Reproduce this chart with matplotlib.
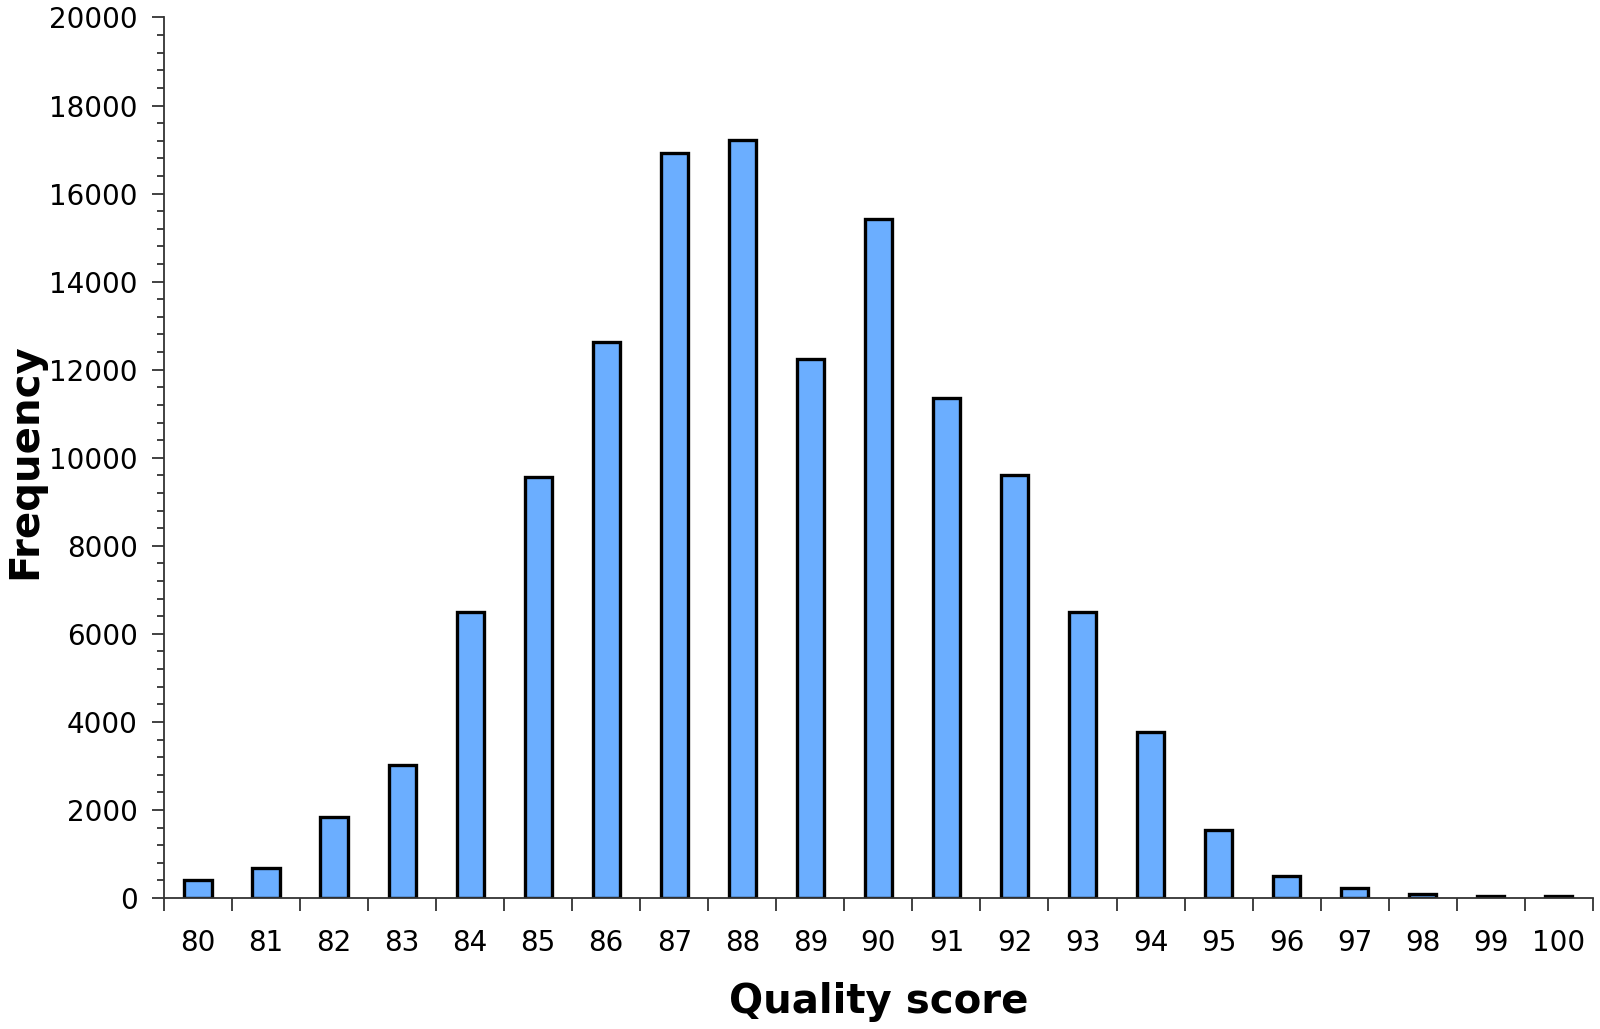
import numpy as np
import matplotlib
matplotlib.use('Agg')
import matplotlib.pyplot as plt
from matplotlib.ticker import MultipleLocator

# Quality score histogram
scores = [str(s) for s in range(80, 101)]
frequency = [410, 680, 1850, 3010, 6500, 9560, 12640, 16930, 17210, 12250,
             15430, 11350, 9610, 6500, 3760, 1540, 510, 235, 85, 40, 40]

fig = plt.figure(figsize=(16, 10.29), dpi=100)
ax = fig.add_axes([0.1025, 0.1273, 0.893, 0.8557])

x = np.arange(len(scores))
ax.bar(x, frequency, width=0.4, color='#6BAEFF', edgecolor='black', linewidth=2.4)

ax.set_xlim(-0.5, len(scores) - 0.5)
ax.set_ylim(0, 20000)

# category labels centred, ticks on the boundaries
ax.set_xticks(x)
ax.set_xticklabels(scores)
ax.set_xticks(np.arange(-0.5, len(scores)), minor=True)
ax.tick_params(axis='x', which='major', length=0, labelsize=20, pad=22)
ax.tick_params(axis='x', which='minor', length=9, width=1.3, color='#333333')

ax.yaxis.set_major_locator(MultipleLocator(2000))
ax.yaxis.set_minor_locator(MultipleLocator(400))
ax.tick_params(axis='y', which='major', length=9, width=1.3, labelsize=20, pad=10, color='#333333')
ax.tick_params(axis='y', which='minor', length=5, width=1.3, color='#333333')

for side in ['top', 'right']:
    ax.spines[side].set_visible(False)
for side in ['left', 'bottom']:
    ax.spines[side].set_linewidth(1.3)
    ax.spines[side].set_color('#333333')

ax.set_xlabel('Quality score', fontsize=29, fontweight='bold', labelpad=18)
ax.set_ylabel('Frequency', fontsize=29, fontweight='bold')
ax.yaxis.set_label_coords(-0.1, 0.5, transform=None)
# put the y label in figure coordinates so it sits right at the left edge
ax.yaxis.label.set_transform(fig.transFigure)
ax.yaxis.label.set_position((0.0155, 0.552))
ax.yaxis.label.set_va('center')
ax.yaxis.label.set_ha('center')

fig.savefig('out.png', dpi=100)
